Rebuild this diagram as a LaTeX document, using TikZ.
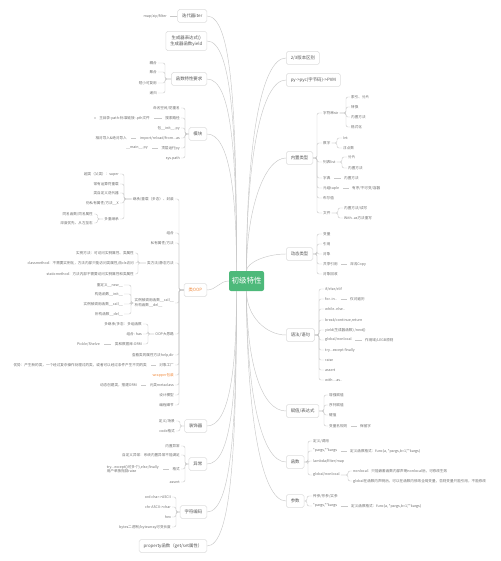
\documentclass[tikz,border=0pt]{standalone}
\usepackage{fontspec}
\setmainfont{Noto Sans CJK SC}
\definecolor{lineGray}{HTML}{C8C8C8}
\definecolor{boxGray}{HTML}{DDDDDD}
\definecolor{txtGray}{HTML}{6E6E6E}
\definecolor{txtDark}{HTML}{555555}
\definecolor{grn}{HTML}{4DB97A}
\definecolor{orng}{HTML}{F0883A}
\tikzset{
  cn/.style={draw=lineGray, line width=0.45pt},
  rc/.style={rounded corners=2pt},
  bx/.style={draw=boxGray, line width=0.5pt, rounded corners=1.8pt, fill=white, text=txtDark,
    font=\fontsize{4.4}{5.6}\selectfont, inner xsep=4.5pt, inner ysep=3.5pt, minimum height=13pt},
  bxl/.style={bx, anchor=east},
  bxr/.style={bx, anchor=west},
  lt/.style={anchor=east, text=txtGray, font=\fontsize{3.6}{4.6}\selectfont, inner sep=1pt},
  rt/.style={anchor=west, text=txtGray, font=\fontsize{3.6}{4.6}\selectfont, inner sep=1pt},
  pair/.style={cn, shorten <=2.5pt, shorten >=2.5pt},
}
\begin{document}
\begin{tikzpicture}[x=1pt,y=-1pt]
\useasboundingbox (0,0) rectangle (500,561);

% centre
\node[fill=grn, text=white, rounded corners=2pt, minimum width=35pt, minimum height=20pt,
  font=\fontsize{7.5}{9}\selectfont, inner sep=1pt] (c) at (246.5,281) {初级特性};

% ---------- left first level ----------
\node[bxl] (n1) at (207,16) {迭代器iter};
\node[bxl, align=center, inner ysep=4.5pt] (n2) at (207,41) {生成器表达式()\\生成器函数yield};
\node[bxl] (n3) at (207,79) {函数特性要求};
\node[bxl] (n4) at (207,134) {模块};
\node[bxl, text=orng] (n5) at (207,290) {类OOP};
\node[bxl] (n6) at (207,426) {装饰器};
\node[bxl] (n7) at (207,464) {异常};
\node[bxl] (n8) at (207,512) {字符编码};
\node[bxl] (n9) at (207,546) {property函数（get/set属性）};

% ---------- right first level ----------
\node[bxr] (r1) at (286,58) {2/3版本区别};
\node[bxr] (r2) at (286,80) {py->pyc(字节码)->PVM};
\node[bxr] (r3) at (286,158) {内置类型};
\node[bxr] (r4) at (286,254) {动态类型};
\node[bxr] (r5) at (286,335) {语法/语句};
\node[bxr] (r6) at (286,411) {赋值/表达式};
\node[bxr] (r7) at (286,462) {函数};
\node[bxr] (r8) at (286,501) {参数};

% ---------- centre curves ----------
\draw[cn] ([xshift=-10pt]c.north) to[out=90,in=0,out distance=160,in distance=25] (n1.east);
\draw[cn] ([xshift=-10pt]c.north) to[out=90,in=0,out distance=140,in distance=25] (n2.east);
\draw[cn] ([xshift=-10pt]c.north) to[out=90,in=0,out distance=115,in distance=25] (n3.east);
\draw[cn] ([xshift=-10pt]c.north) to[out=90,in=0,out distance=80,in distance=22] (n4.east);
\draw[cn] (c.west) to[out=180,in=0] (n5.east);
\draw[cn] ([xshift=-10pt]c.south) to[out=-90,in=0,out distance=80,in distance=22] (n6.east);
\draw[cn] ([xshift=-10pt]c.south) to[out=-90,in=0,out distance=100,in distance=25] (n7.east);
\draw[cn] ([xshift=-10pt]c.south) to[out=-90,in=0,out distance=130,in distance=25] (n8.east);
\draw[cn] ([xshift=-10pt]c.south) to[out=-90,in=0,out distance=150,in distance=25] (n9.east);

\draw[cn] (c.north) to[out=90,in=180,out distance=125,in distance=25] (r1.west);
\draw[cn] (c.north) to[out=90,in=180,out distance=110,in distance=25] (r2.west);
\draw[cn] (c.north) to[out=90,in=180,out distance=60,in distance=22] (r3.west);
\draw[cn] (c.north) to[out=90,in=180,out distance=8,in distance=20] (r4.west);
\draw[cn] (c.south) to[out=-90,in=180,out distance=25,in distance=20] (r5.west);
\draw[cn] (c.south) to[out=-90,in=180,out distance=70,in distance=25] (r6.west);
\draw[cn] (c.south) to[out=-90,in=180,out distance=100,in distance=25] (r7.west);
\draw[cn] (c.south) to[out=-90,in=180,out distance=120,in distance=25] (r8.west);

% ---------- n1 ----------
\node[lt] (n1a) at (168,16) {map/zip/filter};
\draw[cn] (n1.west) -- ([xshift=2pt]n1a.east);

% ---------- n3 ----------
\node[lt] (n3a) at (158,63) {耦合};
\node[lt] (n3b) at (158,72) {聚合};
\node[lt] (n3c) at (158,83) {短小可复用};
\node[lt] (n3d) at (158,93) {递归};
\foreach \k in {n3a,n3b,n3c,n3d} \draw[cn,rc] (\k.east) -- ++(7,0) |- (n3.west);

% ---------- n4 ----------
\node[lt] (n4a) at (181,108) {命名空间/防重名};
\node[lt] (n4b) at (181,118) {搜索路径};
\node[lt] (n4c) at (181,128) {包\_\_init\_\_.py};
\node[lt] (n4d) at (181,138) {import/reload/from...as};
\node[lt] (n4e) at (181,148) {顶层运行py};
\node[lt] (n4f) at (181,158) {sys.path};
\foreach \k in {n4a,n4b,n4c,n4d,n4e,n4f} \draw[cn,rc] (\k.east) -- ++(4,0) |- (n4.west);
\node[lt] (n4b1) at (151,118) {主目录-path-标准链接-.pth文件};
\node[circle, fill=txtGray, inner sep=0pt, minimum size=1.3pt] (n4dot) at (95,118) {};
\draw[pair] (n4b.west) -- (n4b1.east);
\node[lt] (n4d1) at (128,138) {相对导入\&绝对导入};
\draw[pair] (n4d.west) -- (n4d1.east);
\node[lt] (n4e1) at (149,148) {\_\_main\_\_.py};
\draw[pair] (n4e.west) -- (n4e1.east);

% ---------- n5 (OOP) ----------
\node[lt] (b1) at (175,199) {继承/重载（多态）、封装};
\node[lt] (b2) at (175,233) {组合};
\node[lt] (b3) at (175,243) {私有属性/方法};
\node[lt] (b4) at (175,263) {类方法/静态方法};
\node[lt, align=left] (b5) at (175,303) {实例被调用函数\_\_call\_\_\\析构函数\_\_del\_\_};
\node[lt] (b6) at (175,334) {OOP大思路};
\node[lt] (b7) at (175,355) {查看类的属性方法help,dir};
\node[lt] (b8) at (175,365) {对象工厂};
\node[lt, text=orng] (b9) at (175,375) {wrapper包装};
\node[lt] (b10) at (175,385) {元类metaclass};
\node[lt] (b11) at (175,395) {设计模型};
\node[lt] (b12) at (175,405) {编程细节};
\foreach \k in {b1,b2,b3,b4,b5,b6,b7,b8,b9,b10,b11,b12} \draw[cn,rc] (\k.east) -- ++(4,0) |- (n5.west);

\node[lt] (b1a) at (120,174) {超类（父类）：super};
\node[lt] (b1b) at (120,184) {常有运算符重载};
\node[lt] (b1c) at (120,193) {类自定义迭代器};
\node[lt] (b1d) at (120,203) {伪私有属性/方法\_\_X};
\node[lt] (b1e) at (120,219) {多重继承};
\foreach \k in {b1a,b1b,b1c,b1d,b1e} \draw[cn,rc] (\k.east) -- ++(4,0) |- (b1.west);
\node[lt] (b1e1) at (94,214) {同名函数/同名属性};
\node[lt] (b1e2) at (94,223) {深度优先、从左至右};
\foreach \k in {b1e1,b1e2} \draw[cn,rc] (\k.east) -- ++(3.5,0) |- (b1e.west);

\node[lt] (b4a) at (135,253) {实例方法：可访问实例属性、类属性};
\node[lt] (b4b) at (135,263) {classmethod：不需要实例化，方法内部只能访问类属性,由cls访问};
\node[lt] (b4c) at (135,274) {staticmethod：方法内部不需要访问实例属性和类属性};
\foreach \k in {b4a,b4b,b4c} \draw[cn,rc] (\k.east) -- ++(3,0) |- (b4.west);

\node[lt] (b5a) at (124,285) {重定义\_\_new\_\_};
\node[lt] (b5b) at (124,294) {构造函数\_\_init\_\_};
\node[lt] (b5c) at (124,304) {实例被调用函数\_\_call\_\_};
\node[lt] (b5d) at (124,314) {析构函数\_\_del\_\_};
\foreach \k in {b5a,b5b,b5c,b5d} \draw[cn,rc] (\k.east) -- ++(7,0) |- (b5.west);

\node[lt] (b6a) at (143,324) {多继承/多态：多组函数};
\node[lt] (b6b) at (143,334) {组合: has};
\node[lt] (b6c) at (143,344) {类和数据库:ORM};
\foreach \k in {b6a,b6b,b6c} \draw[cn,rc] (\k.east) -- ++(5,0) |- (b6.west);
\node[lt] (b6c1) at (101,344) {Pickle/Shelve};
\draw[pair] (b6c.west) -- (b6c1.east);

\node[lt] (b8a) at (148,365) {优势：产生新的类，一个经过复杂操作处理过的类，或者可以经过条件产生不同的类};
\draw[pair] (b8.west) -- (b8a.east);
\node[lt] (b10a) at (138,385) {动态创建类，搭建ORM};
\draw[pair] (b10.west) -- (b10a.east);

% ---------- n6 ----------
\node[lt] (n6a) at (176,421) {定义/场景};
\node[lt] (n6b) at (176,431) {code格式};
\foreach \k in {n6a,n6b} \draw[cn,rc] (\k.east) -- ++(4,0) |- (n6.west);

% ---------- n7 ----------
\node[lt] (n7a) at (181,446) {内置异常};
\node[lt] (n7b) at (181,455) {自定义异常：系统内置异常不能满足};
\node[lt] (n7c) at (181,469) {格式};
\node[lt] (n7d) at (181,482) {assert};
\foreach \k in {n7a,n7b,n7c,n7d} \draw[cn,rc] (\k.east) -- ++(4,0) |- (n7.west);
\node[lt, align=left] (n7c1) at (160,469) {try...except()可多个),else,finally\\用户单独抛回raise};
\draw[pair] (n7c.west) -- (n7c1.east);

% ---------- n8 ----------
\node[lt] (n8a) at (172,497) {ord char->ASCII};
\node[lt] (n8b) at (172,507) {chr ASCII->char};
\node[lt] (n8c) at (172,517) {hex};
\node[lt] (n8d) at (172,527) {bytes二进制/bytearray可变长度};
\foreach \k in {n8a,n8b,n8c,n8d} \draw[cn,rc] (\k.east) -- ++(4,0) |- (n8.west);

% ---------- r3 ----------
\node[rt] (s1) at (322,113) {字符串str};
\node[rt] (s2) at (322,143) {数字};
\node[rt] (s3) at (322,162) {列表list};
\node[rt] (s4) at (322,178) {字典};
\node[rt] (s5) at (322,188) {元组tuple};
\node[rt] (s6) at (322,198) {布尔值};
\node[rt] (s7) at (322,213) {文件};
\foreach \k in {s1,s2,s3,s4,s5,s6,s7} \draw[cn,rc] (\k.west) -- ++(-5,0) |- (r3.east);
\node[rt] (s1a) at (350,97) {索引、分片};
\node[rt] (s1b) at (350,107) {转换};
\node[rt] (s1c) at (350,117) {内置方法};
\node[rt] (s1d) at (350,127) {格式化};
\foreach \k in {s1a,s1b,s1c,s1d} \draw[cn,rc] (\k.west) -- ++(-4,0) |- (s1.east);
\node[rt] (s2a) at (342,138) {Int};
\node[rt] (s2b) at (342,148) {浮点数};
\foreach \k in {s2a,s2b} \draw[cn,rc] (\k.west) -- ++(-5,0) |- (s2.east);
\node[rt] (s3a) at (347,157) {分片};
\node[rt] (s3b) at (347,168) {内置方法};
\foreach \k in {s3a,s3b} \draw[cn,rc] (\k.west) -- ++(-5,0) |- (s3.east);
\node[rt] (s4a) at (343,178) {内置方法};
\draw[pair] (s4.east) -- (s4a.west);
\node[rt] (s5a) at (351,188) {有序/不可变/容器};
\draw[pair] (s5.east) -- (s5a.west);
\node[rt] (s7a) at (343,208) {内置方法/读写};
\node[rt] (s7b) at (343,218) {With..as方法重写};
\foreach \k in {s7a,s7b} \draw[cn,rc] (\k.west) -- ++(-5,0) |- (s7.east);

% ---------- r4 ----------
\node[rt] (t1) at (322,234) {变量};
\node[rt] (t2) at (322,244) {引用};
\node[rt] (t3) at (322,254) {对象};
\node[rt] (t4) at (322,264) {共享引用};
\node[rt] (t5) at (322,274) {对象回收};
\foreach \k in {t1,t2,t3,t4,t5} \draw[cn,rc] (\k.west) -- ++(-5,0) |- (r4.east);
\node[rt] (t4a) at (349,264) {深浅Copy};
\draw[pair] (t4.east) -- (t4a.west);

% ---------- r5 ----------
\node[rt] (u1) at (324,289) {if/else/elif};
\node[rt] (u2) at (324,299) {for..in..};
\node[rt] (u3) at (324,309) {while..else..};
\node[rt] (u4) at (324,320) {break/continue,return};
\node[rt] (u5) at (324,330) {yield(生成器函数) /next()};
\node[rt] (u6) at (324,340) {global/nonlocal};
\node[rt] (u7) at (324,350) {try...except finally};
\node[rt] (u8) at (324,360) {raise};
\node[rt] (u9) at (324,370) {assert};
\node[rt] (u10) at (324,380) {with ...as..};
\foreach \k in {u1,u2,u3,u4,u5,u6,u7,u8,u9,u10} \draw[cn,rc] (\k.west) -- ++(-5,0) |- (r5.east);
\node[rt] (u2a) at (349,299) {仅对遍历};
\draw[pair] (u2.east) -- (u2a.west);
\node[rt] (u6a) at (364,340) {作用域/LEGB原则};
\draw[pair] (u6.east) -- (u6a.west);

% ---------- r6 ----------
\node[rt] (v1) at (328,395) {增强赋值};
\node[rt] (v2) at (328,405) {序列赋值};
\node[rt] (v3) at (328,415) {键值};
\node[rt] (v4) at (328,426) {变量名规则};
\foreach \k in {v1,v2,v3,v4} \draw[cn,rc] (\k.west) -- ++(-4,0) |- (r6.east);
\node[rt] (v4a) at (359,426) {保留字};
\draw[pair] (v4.east) -- (v4a.west);

% ---------- r7 ----------
\node[rt] (w1) at (312,441) {定义/调用};
\node[rt] (w2) at (312,451) {*pargs,**kargs};
\node[rt] (w3) at (312,461) {lambda/filter/map};
\node[rt] (w4) at (312,475) {global/nonlocal};
\foreach \k in {w1,w2,w3,w4} \draw[cn,rc] (\k.west) -- ++(-4,0) |- (r7.east);
\node[rt] (w2a) at (349,451) {定义函数格式：func(a, *pargs,b=1,**kargs)};
\draw[pair] (w2.east) -- (w2a.west);
\node[rt] (w4a) at (352,471) {nonlocal：只能嵌套函数内部声明nonlocal后，可修改生效};
\node[rt] (w4b) at (352,481) {global在函数内声明后，可以在函数内修改全局变量，否则变量只能引用，不能修改};
\foreach \k in {w4a,w4b} \draw[cn,rc] (\k.west) -- ++(-4,0) |- (w4.east);

% ---------- r8 ----------
\node[rt] (x1) at (312,496) {传参/形参/实参};
\node[rt] (x2) at (312,506) {*pargs,**kargs};
\foreach \k in {x1,x2} \draw[cn,rc] (\k.west) -- ++(-5,0) |- (r8.east);
\node[rt] (x2a) at (350,506) {定义函数格式：func(a, *pargs,b=1,**kargs)};
\draw[pair] (x2.east) -- (x2a.west);
\end{tikzpicture}
\end{document}
